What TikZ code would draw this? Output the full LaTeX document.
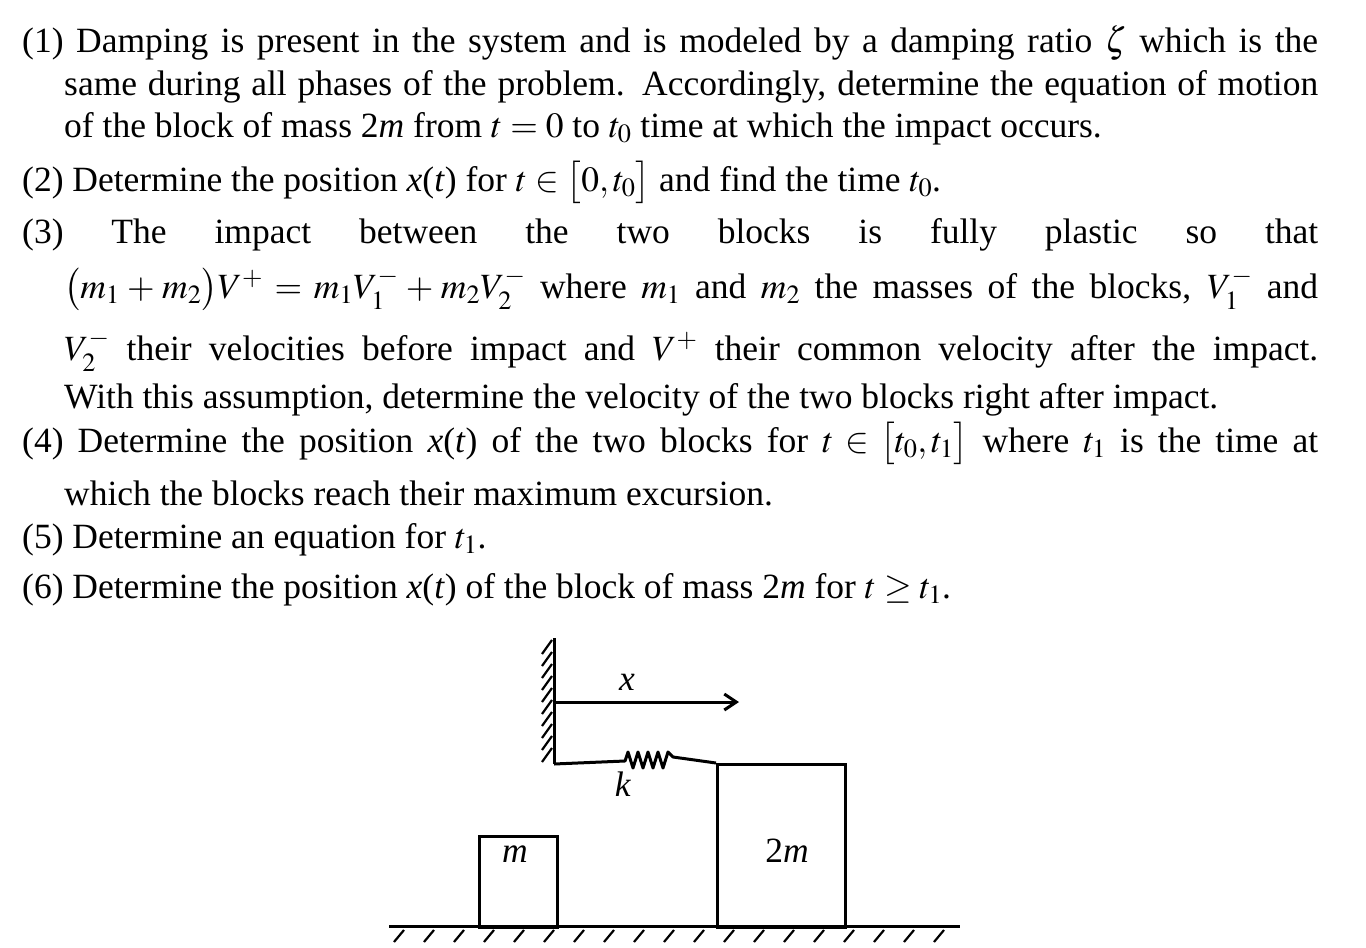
\documentclass[tikz,border=0pt]{standalone}
\usetikzlibrary{arrows.meta}
\usepackage{mathptmx}
\usepackage{fontspec}
\setmainfont{Liberation Serif}
\begin{document}
\begin{tikzpicture}[x=1pt,y=-1pt,
  txt/.style={anchor=base west,inner sep=0pt,font=\fontsize{35.5}{40}\selectfont},
  body/.style={draw,line width=3pt},
  ln/.style={line width=3pt}]
\useasboundingbox (0,0) rectangle (1366,948);
\node[txt] (l1) at (22,52) {\makebox[1296pt][s]{(1) Damping is present in the system and is modeled by a damping ratio $\zeta$ which is the}};
\node[txt] (l2) at (64,95) {\makebox[1254pt][s]{same during all phases of the problem. Accordingly, determine the equation of motion}};
\node[txt] (l3) at (64,137) {of the block of mass 2\textit{m} from $t=0$ to $t_0$ time at which the impact occurs.};
\node[txt] (l4) at (22,191) {(2) Determine the position \textit{x}(\textit{t}) for $t\in\bigl[0,t_0\bigr]$ and find the time $t_0$.};
\node[txt] (l5) at (22,243) {\makebox[1296pt][s]{(3) The impact between the two blocks is fully plastic so that}};
\node[txt] (l6) at (64,298) {\makebox[1254pt][s]{$\bigl(m_1+m_2\bigr)V^+=m_1V_1^-+m_2V_2^-$ where $m_1$ and $m_2$ the masses of the blocks, $V_1^-$ and}};
\node[txt] (l7) at (64,360) {\makebox[1254pt][s]{$V_2^-$ their velocities before impact and $V^+$ their common velocity after the impact.}};
\node[txt] (l8) at (64,408) {With this assumption, determine the velocity of the two blocks right after impact.};
\node[txt] (l9) at (22,452) {\makebox[1296pt][s]{(4) Determine the position \textit{x}(\textit{t}) of the two blocks for $t\in\bigl[t_0,t_1\bigr]$ where $t_1$ is the time at}};
\node[txt] (l10) at (64,505) {which the blocks reach their maximum excursion.};
\node[txt] (l11) at (22,548) {(5) Determine an equation for $t_1$.};
\node[txt] (l12) at (22,598) {(6) Determine the position \textit{x}(\textit{t}) of the block of mass 2\textit{m} for $t\geq t_1$.};
% figure
\coordinate (wt) at (554,638);
\coordinate (wb) at (554,764);
\draw[ln] (wt) -- (wb);
\foreach \y in {640,652,...,752} \draw[line width=2.2pt] (552,\y) -- (542,\y+14);
\coordinate (ax) at (554,702);
\coordinate (axe) at (739,702);
\draw[ln,-{Straight Barb[length=12pt,width=16pt,line width=3pt]}] (ax) -- (axe);
\node[txt,anchor=base] (xl) at (627,690) {\textit{x}};
\node[body,minimum width=78pt,minimum height=91pt,anchor=north west,inner sep=0pt] (m) at (478,835) {};
\node[txt,anchor=base] (ml) at (515,862) {\textit{m}};
\node[body,minimum width=128pt,minimum height=163pt,anchor=north west,inner sep=0pt] (M) at (716,763) {};
\node[txt,anchor=base] (Ml) at (787,862) {2\textit{m}};
\draw[ln,line join=round] (wb) -- (625,761) -- (628,752) -- (633,768) -- (638,752) -- (643,768) -- (648,752) -- (653,768) -- (658,752) -- (663,768) -- (668,752) -- (673,757) -- (M.north west);
\node[txt,anchor=base] (kl) at (623,796) {\textit{k}};
\coordinate (g1) at (389,926);
\coordinate (g2) at (960,926);
\draw[ln] (g1) -- (g2);
\foreach \x in {404,434,...,950} \draw[line width=2.2pt] (\x,930) -- (\x-10,942);
\end{tikzpicture}
\end{document}
